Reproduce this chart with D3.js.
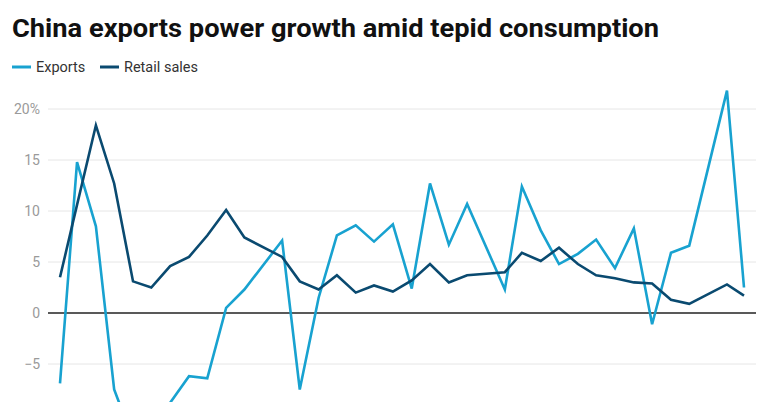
<!DOCTYPE html>
<html>
<head>
<meta charset="utf-8">
<script src="https://cdn.jsdelivr.net/npm/d3@7"></script>
<style>
  html, body { margin: 0; padding: 0; background: #fff; overflow: hidden; }
  svg { display: block; font-family: Roboto, "Noto Sans", sans-serif; }
</style>
</head>
<body>
<svg id="chart" width="768" height="402"></svg>
<script>
// Monthly observations from Feb 2023 to Mar 2026 (January values are reported jointly with February)
const months = [
  "2023-02","2023-03","2023-04","2023-05","2023-06","2023-07","2023-08","2023-09","2023-10","2023-11","2023-12",
  "2024-01","2024-02","2024-03","2024-04","2024-05","2024-06","2024-07","2024-08","2024-09","2024-10","2024-11","2024-12",
  "2025-01","2025-02","2025-03","2025-04","2025-05","2025-06","2025-07","2025-08","2025-09","2025-10","2025-11","2025-12",
  "2026-01","2026-02","2026-03"
];
const exportsGrowth = [
  -6.9, 14.8, 8.5, -7.5, -12.4, -14.5, -8.8, -6.2, -6.4, 0.5, 2.3,
  null, 7.1, -7.5, 1.5, 7.6, 8.6, 7.0, 8.7, 2.4, 12.7, 6.7, 10.7,
  null, 2.3, 12.4, 8.1, 4.8, 5.8, 7.2, 4.4, 8.3, -1.1, 5.9, 6.6,
  null, 21.8, 2.5
];
const retailGrowth = [
  3.5, 10.6, 18.4, 12.7, 3.1, 2.5, 4.6, 5.5, 7.6, 10.1, 7.4,
  null, 5.5, 3.1, 2.3, 3.7, 2.0, 2.7, 2.1, 3.2, 4.8, 3.0, 3.7,
  null, 4.0, 5.9, 5.1, 6.4, 4.8, 3.7, 3.4, 3.0, 2.9, 1.3, 0.9,
  null, 2.8, 1.7
];
const yTicks = [-5, 0, 5, 10, 15, 20];
const seriesNames = ["Exports", "Retail sales"];
const seriesColors = ["#18a2d0", "#0a4a70"];

const svg = d3.select("#chart");
const parse = d3.timeParse("%Y-%m");
const dates = months.map(parse);

const x = d3.scaleTime()
  .domain([dates[0], dates[dates.length - 1]])
  .range([60, 744]);
const y = d3.scaleLinear().domain([-15, 20]).range([466, 109]);

// Title
svg.append("text")
  .attr("x", 12).attr("y", 37)
  .attr("font-size", 26.5).attr("font-weight", 700)
  .attr("fill", "#111")
  .attr("textLength", 647).attr("lengthAdjust", "spacingAndGlyphs")
  .text("China exports power growth amid tepid consumption");

// Legend
const legend = svg.append("g");
const legX = [12, 100];
seriesNames.forEach((name, i) => {
  legend.append("line")
    .attr("x1", legX[i]).attr("x2", legX[i] + 19)
    .attr("y1", 67).attr("y2", 67)
    .attr("stroke", seriesColors[i]).attr("stroke-width", 3);
  legend.append("text")
    .attr("x", legX[i] + 24).attr("y", 72)
    .attr("font-size", 14.5).attr("fill", "#333")
    .text(name);
});

// Gridlines and y axis labels
const grid = svg.append("g");
yTicks.forEach(t => {
  grid.append("line")
    .attr("x1", 48).attr("x2", 756)
    .attr("y1", y(t)).attr("y2", y(t))
    .attr("stroke", t === 0 ? "#222" : "#e6e6e6")
    .attr("stroke-width", t === 0 ? 1.3 : 1);
  grid.append("text")
    .attr("x", 40).attr("y", y(t) + 5)
    .attr("text-anchor", "end")
    .attr("font-size", 14).attr("fill", "#9a9a9a")
    .text(t === 20 ? "20%" : (t < 0 ? "\u2212" + Math.abs(t) : String(t)));
});

// Lines (connect across missing January observations)
const line = d3.line().x(d => x(d.date)).y(d => y(d.value));
[exportsGrowth, retailGrowth].forEach((vals, i) => {
  const pts = dates.map((d, j) => ({ date: d, value: vals[j] })).filter(p => p.value !== null);
  svg.append("path")
    .datum(pts)
    .attr("fill", "none")
    .attr("stroke", seriesColors[i])
    .attr("stroke-width", 2.6)
    .attr("stroke-linejoin", "miter")
    .attr("d", line);
});
</script>
</body>
</html>
